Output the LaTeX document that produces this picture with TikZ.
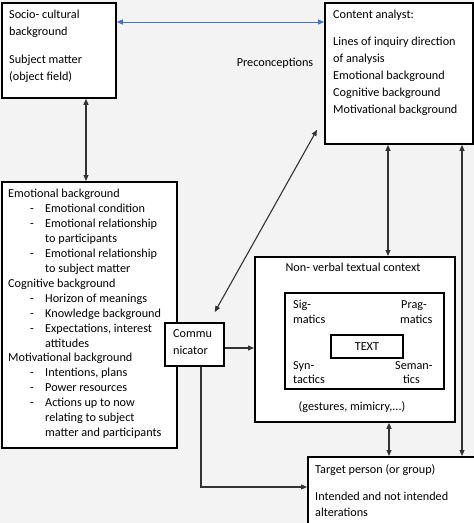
\documentclass[tikz,border=0pt]{standalone}
\usepackage{fontspec}
\setmainfont{Carlito}
\usetikzlibrary{arrows.meta,calc}
\definecolor{bgcol}{HTML}{F3F3F3}
\definecolor{linkblue}{HTML}{4472C4}
\definecolor{conncol}{HTML}{333333}
\begin{document}
\begin{tikzpicture}[x=1pt,y=-1pt,
  box/.style={draw=black, line width=1.8pt, fill=white, inner sep=0pt, anchor=north west},
  txt/.style={font=\fontsize{12.2}{15}\selectfont, inner sep=0pt, anchor=base west},
  ctxt/.style={font=\fontsize{12.2}{15}\selectfont, inner sep=0pt, anchor=base},
  conn/.style={draw=conncol, line width=1.1pt},
  onetip/.style={-{Triangle[length=6pt,width=5pt]}},
  twotip/.style={{Triangle[length=6pt,width=5pt]}-{Triangle[length=6pt,width=5pt]}}]
\useasboundingbox (0,0) rectangle (474,523);
\clip (0,0) rectangle (474,523);
\fill[bgcol] (0,0) rectangle (474,523);

% boxes
\node[box, minimum width=114pt, minimum height=95pt] (A) at (1,2) {};
\node[box, minimum width=148pt, minimum height=141pt] (B) at (324,2) {};
\node[box, minimum width=175pt, minimum height=266pt] (C) at (1,181) {};
\node[box, minimum width=59pt, minimum height=43pt] (D) at (164,322) {};
\node[box, minimum width=200pt, minimum height=165pt] (E) at (254,256) {};
\node[box, minimum width=159pt, minimum height=96pt] (F) at (284,292) {};
\node[box, minimum width=72pt, minimum height=23pt] (G) at (330,334) {};
\node[box, minimum width=180pt, minimum height=80pt] (H) at (307,456) {};

% texts in A
\foreach \y/\t in {15/{Socio- cultural}, 32/background, 60/{Subject matter}, 77/{(object field)}}
  \node[txt] at (9,\y+3.5) {\t};
% texts in B
\foreach \y/\t in {15/{Content analyst:}, 42/{Lines of inquiry direction}, 59/{of analysis},
  76/{Emotional background}, 93/{Cognitive background}, 110/{Motivational background}}
  \node[txt] at (333,\y+3.5) {\t};
% texts in C
\foreach \y/\t in {194/{Emotional background}, 284/{Cognitive background}, 358/{Motivational background}}
  \node[txt] at (8,\y+3.5) {\t};
\foreach \y in {209,224,254,299,314,329,373,388,403}
  \node[txt] at (30,\y+3.5) {-};
\foreach \y/\t in {209/{Emotional condition}, 224/{Emotional relationship}, 239/{to participants},
  254/{Emotional relationship}, 269/{to subject matter}, 299/{Horizon of meanings},
  314/{Knowledge background}, 329/{Expectations, interest}, 344/attitudes,
  373/{Intentions, plans}, 388/{Power resources}, 403/{Actions up to now},
  418/{relating to subject}, 433/{matter and participants}}
  \node[txt] at (45,\y+3.5) {\t};
% communicator
\node[txt] at (173,334+3.5) {Commu};
\node[txt] at (173,351+3.5) {nicator};
% non-verbal context
\node[ctxt] at (353,268+3.5) {Non- verbal textual context};
\node[ctxt] at (352,407+3.5) {(gestures, mimicry,...)};
\node[txt] at (293,305+3.5) {Sig-};
\node[txt] at (293,320+3.5) {matics};
\node[txt] at (401,305+3.5) {Prag-};
\node[txt] at (400,320+3.5) {matics};
\node[txt] at (293,366+3.5) {Syn-};
\node[txt] at (293,380+3.5) {tactics};
\node[txt] at (395,366+3.5) {Seman-};
\node[txt] at (403,380+3.5) {tics};
\node[ctxt] at (G.center) [yshift=-4pt] {TEXT};
% target
\foreach \y/\t in {470/{Target person (or group)}, 497/{Intended and not intended}, 513/alterations}
  \node[txt] at (315,\y+3.5) {\t};
% preconceptions
\node[ctxt] (P) at (275,63+3.5) {Preconceptions};

% connectors
\draw[twotip, draw=linkblue, line width=1pt] ($(B.north west)+(0,20)$) -- ($(A.north east)+(0,20)$);
\draw[conn, twotip] ($(A.south west)+(85,0)$) -- ($(C.north west)+(85,0)$);
\draw[conn, twotip] ($(B.south west)+(-7,-15)$) -- ($(D.north east)+(-10,-10)$);
\draw[conn, twotip] ($(B.south west)+(64,0)$) -- ($(E.north west)+(134,0)$);
\draw[conn, twotip] ($(B.south west)+(138,0)$) -- ($(H.north west)+(155,0)$);
\draw[conn, twotip] ($(E.south west)+(135,0)$) -- ($(H.north west)+(82,0)$);
\draw[conn, onetip] ($(D.north east)+(0,26)$) -- ($(E.north west)+(0,92)$);
\draw[conn, onetip] ($(D.south west)+(37,0)$) |- ($(H.north west)+(0,31)$);
\end{tikzpicture}
\end{document}
